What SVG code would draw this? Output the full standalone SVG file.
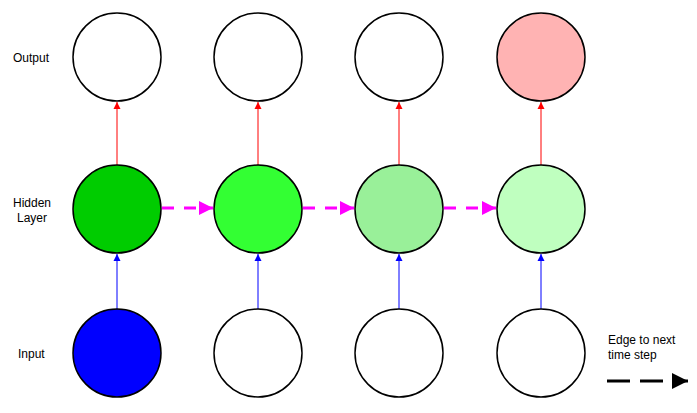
<svg xmlns="http://www.w3.org/2000/svg" width="697" height="413" viewBox="0 0 697 413">
<style>
text{font-family:"Liberation Sans",Arial,sans-serif;font-size:12px;fill:#000}
circle{stroke:#000;stroke-width:1.5}
.r{stroke:#f00;stroke-width:1}
.b{stroke:#00f;stroke-width:1}
.m{stroke:#f0f;stroke-width:3;stroke-dasharray:12 10}
</style>
<defs>
<marker id="ar" viewBox="0 0 10 10" refX="10" refY="5" markerWidth="7" markerHeight="9" markerUnits="userSpaceOnUse" orient="auto"><path d="M0,0L10,5L0,10z" fill="#f00"/></marker>
<marker id="ab" viewBox="0 0 10 10" refX="10" refY="5" markerWidth="7" markerHeight="9" markerUnits="userSpaceOnUse" orient="auto"><path d="M0,0L10,5L0,10z" fill="#00f"/></marker>
<marker id="am" viewBox="0 0 10 10" refX="10" refY="5" markerWidth="18" markerHeight="14" markerUnits="userSpaceOnUse" orient="auto"><path d="M0,0L10,5L0,10z" fill="#f0f"/></marker>
<marker id="ak" viewBox="0 0 10 10" refX="10" refY="5" markerWidth="20" markerHeight="16" markerUnits="userSpaceOnUse" orient="auto"><path d="M0,0L10,5L0,10z" fill="#000"/></marker>
</defs>
<g id="labels">
<text x="13" y="62">Output</text>
<text x="13" y="207">Hidden</text>
<text x="17" y="222">Layer</text>
<text x="18" y="358">Input</text>
</g>
<g id="connectors">
<line class="r" x1="117" y1="165" x2="117" y2="102" marker-end="url(#ar)"/>
<line class="r" x1="258" y1="165" x2="258" y2="102" marker-end="url(#ar)"/>
<line class="r" x1="399" y1="165" x2="399" y2="102" marker-end="url(#ar)"/>
<line class="r" x1="541" y1="165" x2="541" y2="102" marker-end="url(#ar)"/>
<line class="b" x1="117" y1="309" x2="117" y2="254" marker-end="url(#ab)"/>
<line class="b" x1="258" y1="309" x2="258" y2="254" marker-end="url(#ab)"/>
<line class="b" x1="399" y1="309" x2="399" y2="254" marker-end="url(#ab)"/>
<line class="b" x1="541" y1="309" x2="541" y2="254" marker-end="url(#ab)"/>
<line class="m" x1="162" y1="208" x2="213" y2="208" marker-end="url(#am)"/>
<line class="m" x1="303" y1="208" x2="354" y2="208" marker-end="url(#am)"/>
<line class="m" x1="444" y1="208" x2="496" y2="208" marker-end="url(#am)"/>
</g>
<g id="out1"><circle cx="117" cy="57" r="44" fill="#fff"/></g>
<g id="out2"><circle cx="258" cy="57" r="44" fill="#fff"/></g>
<g id="out3"><circle cx="399" cy="57" r="44" fill="#fff"/></g>
<g id="out4"><circle cx="541" cy="57" r="44" fill="#ffb3b3"/></g>
<g id="hid1"><circle cx="117" cy="209" r="44" fill="#00cc00"/></g>
<g id="hid2"><circle cx="258" cy="209" r="44" fill="#33ff33"/></g>
<g id="hid3"><circle cx="399" cy="209" r="44" fill="#99f099"/></g>
<g id="hid4"><circle cx="541" cy="209" r="44" fill="#bfffbf"/></g>
<g id="in1"><circle cx="117" cy="353" r="44" fill="#0000ff"/></g>
<g id="in2"><circle cx="258" cy="353" r="44" fill="#fff"/></g>
<g id="in3"><circle cx="399" cy="353" r="44" fill="#fff"/></g>
<g id="in4"><circle cx="541" cy="353" r="44" fill="#fff"/></g>
<g id="legend">
<text x="608" y="344">Edge to next</text>
<text x="608" y="359">time step</text>
<line x1="607" y1="381" x2="688" y2="381" stroke="#000" stroke-width="3" stroke-dasharray="23 10" marker-end="url(#ak)"/>
</g>
</svg>
